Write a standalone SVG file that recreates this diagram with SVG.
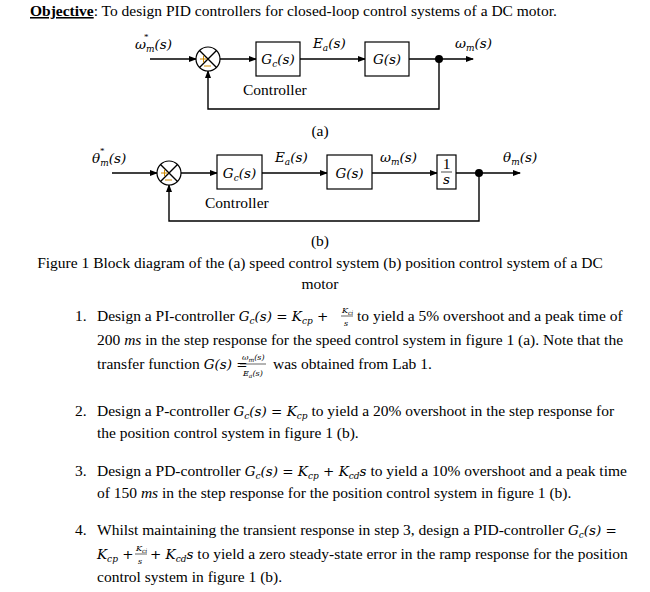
<svg xmlns="http://www.w3.org/2000/svg" width="650" height="592" viewBox="0 0 650 592">
<style>
text{font-family:"Liberation Serif",serif;font-size:15.5px;fill:#000}
.m{font-family:"DejaVu Serif","Liberation Serif",serif;font-style:italic;font-size:13.5px;fill:#000}
.s{font-size:9px}
.f{font-family:"DejaVu Serif",serif;font-style:italic;font-size:8px}
.ln{stroke:#000;stroke-width:1.4;fill:none}
.bx{stroke:#000;stroke-width:1.2;fill:#fff}
</style>
<defs><marker id="a" markerWidth="8" markerHeight="8" refX="7" refY="4" orient="auto" markerUnits="userSpaceOnUse"><path d="M0,1 L8,4 L0,7z" fill="#000"/></marker></defs>
<rect width="650" height="592" fill="#fff"/>
<text x="30" y="16"><tspan font-weight="bold" text-decoration="underline">Objective</tspan>: To design PID controllers for closed-loop control systems of a DC motor.</text>
<g id="connectors">
<path class="ln" d="M150,59 H196" marker-end="url(#a)"/>
<path class="ln" d="M220,59 H256" marker-end="url(#a)"/>
<path class="ln" d="M300,59 H365" marker-end="url(#a)"/>
<path class="ln" d="M409,59 H473" marker-end="url(#a)"/>
<path class="ln" d="M439,59 V109 H208 V71" marker-end="url(#a)"/>
<path class="ln" d="M112,173 H157" marker-end="url(#a)"/>
<path class="ln" d="M181,173 H217" marker-end="url(#a)"/>
<path class="ln" d="M262,173 H327" marker-end="url(#a)"/>
<path class="ln" d="M372,173 H437" marker-end="url(#a)"/>
<path class="ln" d="M456,173 H520" marker-end="url(#a)"/>
<path class="ln" d="M479,173 V221 H169 V185" marker-end="url(#a)"/>
<circle cx="439" cy="59" r="4"/><circle cx="479" cy="173" r="4"/>
</g>
<g id="sum1"><circle cx="208" cy="59" r="12" class="bx"/><path class="ln" d="M199.5,50.5 L216.5,67.5 M216.5,50.5 L199.5,67.5" stroke-width="1.2"/><path d="M200,59 h7 M203.5,55.5 v7 M204,66 h7" stroke="#c80" stroke-width="1"/></g>
<g id="gc1"><rect class="bx" x="256" y="42" width="44" height="34"/><text class="m" x="278" y="64" text-anchor="middle">G<tspan class="s" dy="3">c</tspan><tspan dy="-3">(s)</tspan></text></g>
<g id="g1"><rect class="bx" x="365" y="42" width="44" height="34"/><text class="m" x="387" y="64" text-anchor="middle">G(s)</text></g>
<text class="m" x="135" y="49">ω<tspan class="s" dy="3">m</tspan><tspan dy="-3">(s)</tspan></text>
<text class="s" x="144" y="40" font-family="DejaVu Serif">*</text>
<text class="m" x="313" y="48">E<tspan class="s" dy="3">a</tspan><tspan dy="-3">(s)</tspan></text>
<text class="m" x="455" y="48">ω<tspan class="s" dy="3">m</tspan><tspan dy="-3">(s)</tspan></text>
<text x="243" y="95">Controller</text>
<text x="320" y="136" text-anchor="middle">(a)</text>
<g id="sum2"><circle cx="169" cy="173" r="12" class="bx"/><path class="ln" d="M160.5,164.5 L177.5,181.5 M177.5,164.5 L160.5,181.5" stroke-width="1.2"/><path d="M161,173 h7 M164.5,169.5 v7 M165,180 h7" stroke="#c80" stroke-width="1"/></g>
<g id="gc2"><rect class="bx" x="217" y="155" width="45" height="34"/><text class="m" x="239.5" y="178" text-anchor="middle">G<tspan class="s" dy="3">c</tspan><tspan dy="-3">(s)</tspan></text></g>
<g id="g2"><rect class="bx" x="327" y="155" width="45" height="34"/><text class="m" x="349.5" y="178" text-anchor="middle">G(s)</text></g>
<g id="int"><rect class="bx" x="437" y="155" width="19" height="34"/><text x="446.5" y="169" text-anchor="middle" font-size="9">1</text><path d="M441,172 h11" stroke="#000" stroke-width="0.7"/><text class="m" x="446.5" y="184" text-anchor="middle" font-size="9">s</text></g>
<text class="m" x="92" y="163">θ<tspan class="s" dy="3">m</tspan><tspan dy="-3">(s)</tspan></text>
<text class="s" x="100" y="154" font-family="DejaVu Serif">*</text>
<text class="m" x="275" y="162">E<tspan class="s" dy="3">a</tspan><tspan dy="-3">(s)</tspan></text>
<text class="m" x="380" y="162">ω<tspan class="s" dy="3">m</tspan><tspan dy="-3">(s)</tspan></text>
<text class="m" x="503" y="162">θ<tspan class="s" dy="3">m</tspan><tspan dy="-3">(s)</tspan></text>
<text x="205" y="208">Controller</text>
<text x="320" y="246" text-anchor="middle">(b)</text>
<text x="320" y="268" text-anchor="middle">Figure 1 Block diagram of the (a) speed control system (b) position control system of a DC</text>
<text x="320" y="289" text-anchor="middle">motor</text>

<text x="75" y="321">1.</text>
<text x="97" y="321">Design a PI-controller <tspan class="m">G<tspan class="s" dy="3">c</tspan><tspan dy="-3">(s) = K</tspan><tspan class="s" dy="3">cp</tspan><tspan dy="-3"> +</tspan></tspan></text>
<text class="f" x="342" y="313">K<tspan font-size="6" dy="2">ci</tspan></text>
<path d="M341,316 h12" stroke="#000" stroke-width="0.6"/>
<text class="f" x="344" y="326">s</text>
<text x="357" y="321">to yield a 5% overshoot and a peak time of</text>
<text x="97" y="345">200 <tspan font-style="italic">ms</tspan> in the step response for the speed control system in figure 1 (a). Note that the</text>
<text x="97" y="369">transfer function <tspan class="m">G(s) =</tspan></text>
<text class="f" x="242" y="360">ω<tspan font-size="6" dy="2">m</tspan><tspan dy="-2">(s)</tspan></text>
<path d="M240,364 h26" stroke="#000" stroke-width="0.6"/>
<text class="f" x="243" y="376">E<tspan font-size="6" dy="2">a</tspan><tspan dy="-2">(s)</tspan></text>
<text x="273" y="369">was obtained from Lab 1.</text>

<text x="75" y="416">2.</text>
<text x="97" y="416">Design a P-controller <tspan class="m">G<tspan class="s" dy="3">c</tspan><tspan dy="-3">(s) = K</tspan><tspan class="s" dy="3">cp</tspan></tspan><tspan dy="-3"> to yield a 20% overshoot in the step response for</tspan></text>
<text x="97" y="438">the position control system in figure 1 (b).</text>
<text x="75" y="476">3.</text>
<text x="97" y="476">Design a PD-controller <tspan class="m">G<tspan class="s" dy="3">c</tspan><tspan dy="-3">(s) = K</tspan><tspan class="s" dy="3">cp</tspan><tspan dy="-3"> + K</tspan><tspan class="s" dy="3">cd</tspan><tspan dy="-3">s</tspan></tspan> to yield a 10% overshoot and a peak time</text>
<text x="97" y="498">of 150 <tspan font-style="italic">ms</tspan> in the step response for the position control system in figure 1 (b).</text>
<text x="75" y="535">4.</text>
<text x="97" y="535">Whilst maintaining the transient response in step 3, design a PID-controller <tspan class="m">G<tspan class="s" dy="3">c</tspan><tspan dy="-3">(s) =</tspan></tspan></text>
<text x="97" y="559"><tspan class="m">K<tspan class="s" dy="3">cp</tspan><tspan dy="-3"> +</tspan></tspan></text>
<text class="f" x="136" y="551">K<tspan font-size="6" dy="2">ci</tspan></text>
<path d="M135,554 h12" stroke="#000" stroke-width="0.6"/>
<text class="f" x="138" y="564">s</text>
<text x="150" y="559"><tspan class="m">+ K<tspan class="s" dy="3">cd</tspan><tspan dy="-3">s</tspan></tspan> to yield a zero steady-state error in the ramp response for the position</text>
<text x="97" y="582">control system in figure 1 (b).</text>
</svg>
